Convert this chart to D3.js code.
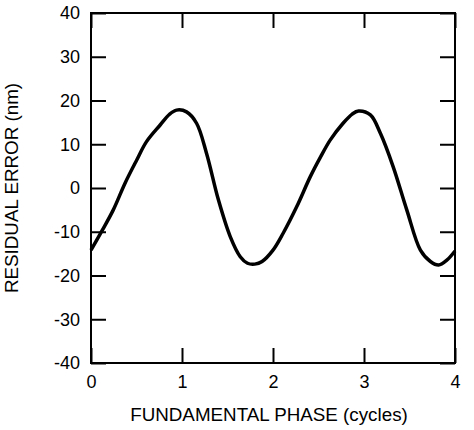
<!DOCTYPE html>
<html>
<head>
<meta charset="utf-8">
<script src="https://cdn.jsdelivr.net/npm/d3@7"></script>
<style>
  body { margin: 0; background: #fff; }
  svg { font-family: "Liberation Sans", Arial, Helvetica, sans-serif; }
</style>
</head>
<body>
<svg width="474" height="430"></svg>
<script>
// phase (cycles) and residual error (nm)
const phase = [0, 0.12, 0.245, 0.374, 0.5, 0.61, 0.76, 0.86, 0.94, 1.05, 1.16, 1.27, 1.40, 1.53, 1.64, 1.72, 1.80, 1.88, 2.0, 2.11, 2.26, 2.41, 2.52, 2.63, 2.77, 2.87, 2.94, 3.07, 3.18, 3.32, 3.47, 3.62, 3.73, 3.82, 3.91, 4.0]
const residual = [-14.2, -9.8, -5.0, 1.1, 6.3, 10.6, 14.4, 16.8, 17.8, 17.4, 14.8, 7.9, -2.7, -11.1, -15.7, -17.2, -17.4, -16.8, -14.2, -10.4, -4.3, 2.6, 7.0, 11.0, 14.8, 16.9, 17.6, 16.7, 12.5, 4.9, -5.0, -14.2, -16.8, -17.6, -16.5, -14.4]

const xTicks = [0, 1, 2, 3, 4]
const yTicks = [-40, -30, -20, -10, 0, 10, 20, 30, 40]

const svg = d3.select("svg")
const plotLeft = 91, plotRight = 455, plotTop = 13, plotBottom = 363

const x = d3.scaleLinear().domain([0, 4]).range([plotLeft, plotRight])
const y = d3.scaleLinear().domain([-40, 40]).range([plotBottom, plotTop])

// frame
svg.append("rect")
    .attr("x", plotLeft)
    .attr("y", plotTop)
    .attr("width", plotRight - plotLeft)
    .attr("height", plotBottom - plotTop)
    .style("fill", "none")
    .style("stroke", "black")
    .style("stroke-width", "2px")

const tickLen = 15

// inward ticks on all four sides
const yLeft = d3.axisLeft(y).tickValues(yTicks).tickSizeInner(-tickLen).tickSizeOuter(0).tickPadding(11)
    .tickFormat(d => d < 0 ? "-" + Math.abs(d) : d)
svg.append("g").attr("transform", `translate(${plotLeft},0)`).call(yLeft)

const yRight = d3.axisRight(y).tickValues(yTicks).tickSizeInner(-tickLen).tickSizeOuter(0).tickFormat("")
svg.append("g").attr("transform", `translate(${plotRight},0)`).call(yRight)

const xBottom = d3.axisBottom(x).tickValues(xTicks).tickSizeInner(-tickLen).tickSizeOuter(0).tickPadding(12)
    .tickFormat(d3.format("d"))
svg.append("g").attr("transform", `translate(0,${plotBottom})`).call(xBottom)

const xTop = d3.axisTop(x).tickValues(xTicks).tickSizeInner(-tickLen).tickSizeOuter(0).tickFormat("")
svg.append("g").attr("transform", `translate(0,${plotTop})`).call(xTop)

svg.selectAll(".domain").remove()
svg.selectAll(".tick line").style("stroke", "black").style("stroke-width", "2px")
svg.selectAll(".tick text")
    .style("font-family", "'Liberation Sans', Arial, sans-serif")
    .style("font-size", "18px")
    .style("fill", "black")

// curve
const line = d3.line()
    .x((d, i) => x(phase[i]))
    .y(d => y(d))
    .curve(d3.curveCatmullRom)

svg.append("path")
    .datum(residual)
    .attr("d", line)
    .style("fill", "none")
    .style("stroke", "black")
    .style("stroke-width", "3.5px")
    .style("stroke-linejoin", "round")

// axis titles
svg.append("text")
    .attr("x", 269)
    .attr("y", 421)
    .style("text-anchor", "middle")
    .style("font-size", "18.8px")
    .text("FUNDAMENTAL PHASE (cycles)")

svg.append("text")
    .attr("transform", "translate(18,188) rotate(-90)")
    .style("text-anchor", "middle")
    .style("font-size", "18.8px")
    .text("RESIDUAL ERROR (nm)")
</script>
</body>
</html>
